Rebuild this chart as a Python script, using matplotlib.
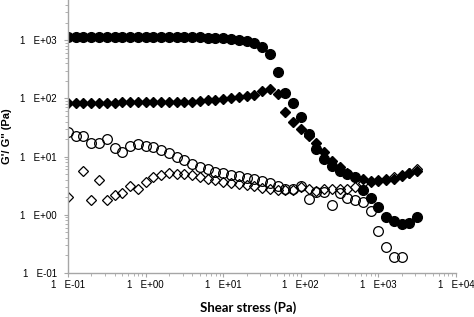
import numpy as np
import matplotlib
matplotlib.use("Agg")
import matplotlib.pyplot as plt
from matplotlib.ticker import LogLocator, FuncFormatter, NullFormatter

# shear stress (Pa), 10 points per decade
stress = [0.1, 0.126, 0.158, 0.2, 0.251, 0.316, 0.398, 0.501, 0.631, 0.794,
          1.0, 1.26, 1.58, 2.0, 2.51, 3.16, 3.98, 5.01, 6.31, 7.94,
          10.0, 12.6, 15.8, 20.0, 25.1, 31.6, 39.8, 50.1, 63.1, 79.4,
          100, 126, 158, 200, 251, 316, 398, 501, 631, 794,
          1000, 1260, 1580, 2000, 2510, 3160]

# filled circles (G')
g1_filled = [1130, 1130, 1130, 1130, 1130, 1130, 1130, 1130, 1130, 1130,
             1130, 1130, 1130, 1130, 1130, 1130, 1130, 1130, 1110, 1100,
             1080, 1050, 1000, 950, 900, 770, 590, 280, 124, 84,
             48, 24, 13.4, 9.0, 6.9, 5.6, 4.95, 4.5, 2.66, 1.92,
             1.34, 0.93, 0.79, 0.69, 0.71, 0.90]

# filled diamonds (G'')
g2_filled = [84, 84, 84, 84, 84, 84, 84, 85, 85, 85,
             85, 85, 86, 86, 86, 86, 87, 90, 92, 93,
             97, 100, 104, 109, 114, 135, 145, 120, 58, 40,
             30, 23, 17, 12, 8.5, 6.5, 5.2, 4.5, 4.06, 3.8,
             3.85, 3.94, 4.2, 4.6, 5.15, 5.7]

# open circles (G')
g1_open = [26, 22.7, 22.7, 16.9, 17.3, 19.7, 13.8, 12.1, 15.3, 16.2,
           15.3, 14.4, 12.9, 11.6, 9.9, 8.7, 7.4, 6.5, 6.0, 5.5,
           5.15, 4.8, 4.6, 4.3, 4.06, 3.85, 3.47, 3.1, 2.77, 2.77,
           3.1, 1.9, 2.49, 2.49, 1.47, 2.33, 1.91, 1.79, 1.68, 1.16,
           0.53, 0.28, 0.186, 0.186]

# open diamonds (G'')
g2_open = [2.04, np.nan, 5.64, 1.79, 3.95, 1.79, 2.21, 2.33, 3.08, 2.73,
           3.69, 4.5, 4.87, 5.2, 5.1, 4.95, 4.8, 4.5, 4.2, 3.95,
           3.69, 3.55, 3.37, 3.24, 3.12, 2.85, 2.74, 2.66, 2.66, 2.66,
           3.03, 2.74, 2.59, 2.74, 2.74, 2.74, 2.74, 3.03, 3.45, 3.69,
           3.95, 4.06, 4.4, 4.8, 5.15, 6.0]

plt.rcParams['font.family'] = ['Liberation Sans', 'DejaVu Sans']

fig = plt.figure(figsize=(4.74, 3.17), dpi=100)
ax = fig.add_axes([68 / 474, 1 - 273 / 317, (456 - 68) / 474, 273 / 317])

ax.plot(stress, g2_open, linestyle='none', marker='D', ms=5.2,
        mfc='none', mec='black', mew=0.9)
ax.plot(stress[:len(g1_open)], g1_open, linestyle='none', marker='o', ms=7,
        mfc='none', mec='black', mew=0.9)
ax.plot(stress, g2_filled, linestyle='none', marker='D', ms=5.2,
        mfc='black', mec='black')
ax.plot(stress, g1_filled, linestyle='none', marker='o', ms=7,
        mfc='black', mec='black')

ax.set_xscale('log')
ax.set_yscale('log')
ax.set_xlim(0.1, 1e4)
ax.set_ylim(0.1, 10 ** 3.69)

fmt = FuncFormatter(lambda v, p: "1   E%+03d" % int(round(np.log10(v))))
for axis in (ax.xaxis, ax.yaxis):
    axis.set_major_locator(LogLocator(base=10, numticks=10))
    axis.set_minor_locator(LogLocator(base=10, subs=np.arange(2, 10), numticks=10))
    axis.set_major_formatter(fmt)
    axis.set_minor_formatter(NullFormatter())

for side in ('top', 'right'):
    ax.spines[side].set_visible(False)
for side in ('left', 'bottom'):
    ax.spines[side].set_color('#a6a6a6')
    ax.spines[side].set_linewidth(1.0)

ax.tick_params(which='major', direction='out', length=3, width=0.8,
               color='#a6a6a6', labelsize=7)
ax.tick_params(axis='x', which='major', pad=2)
ax.tick_params(axis='y', which='major', pad=5)
ax.tick_params(which='minor', direction='out', length=2, width=0.6,
               color='#a6a6a6')

ax.set_xlabel('Shear stress (Pa)', fontsize=9.5, fontweight='bold',
              family=['Lato', 'DejaVu Sans'], labelpad=8)
ax.xaxis.label.set_x((248 - 68) / 388)
ax.set_ylabel("G'/ G'' (Pa)", fontsize=8, fontweight='bold', labelpad=6)

fig.savefig('out.png', dpi=100)
